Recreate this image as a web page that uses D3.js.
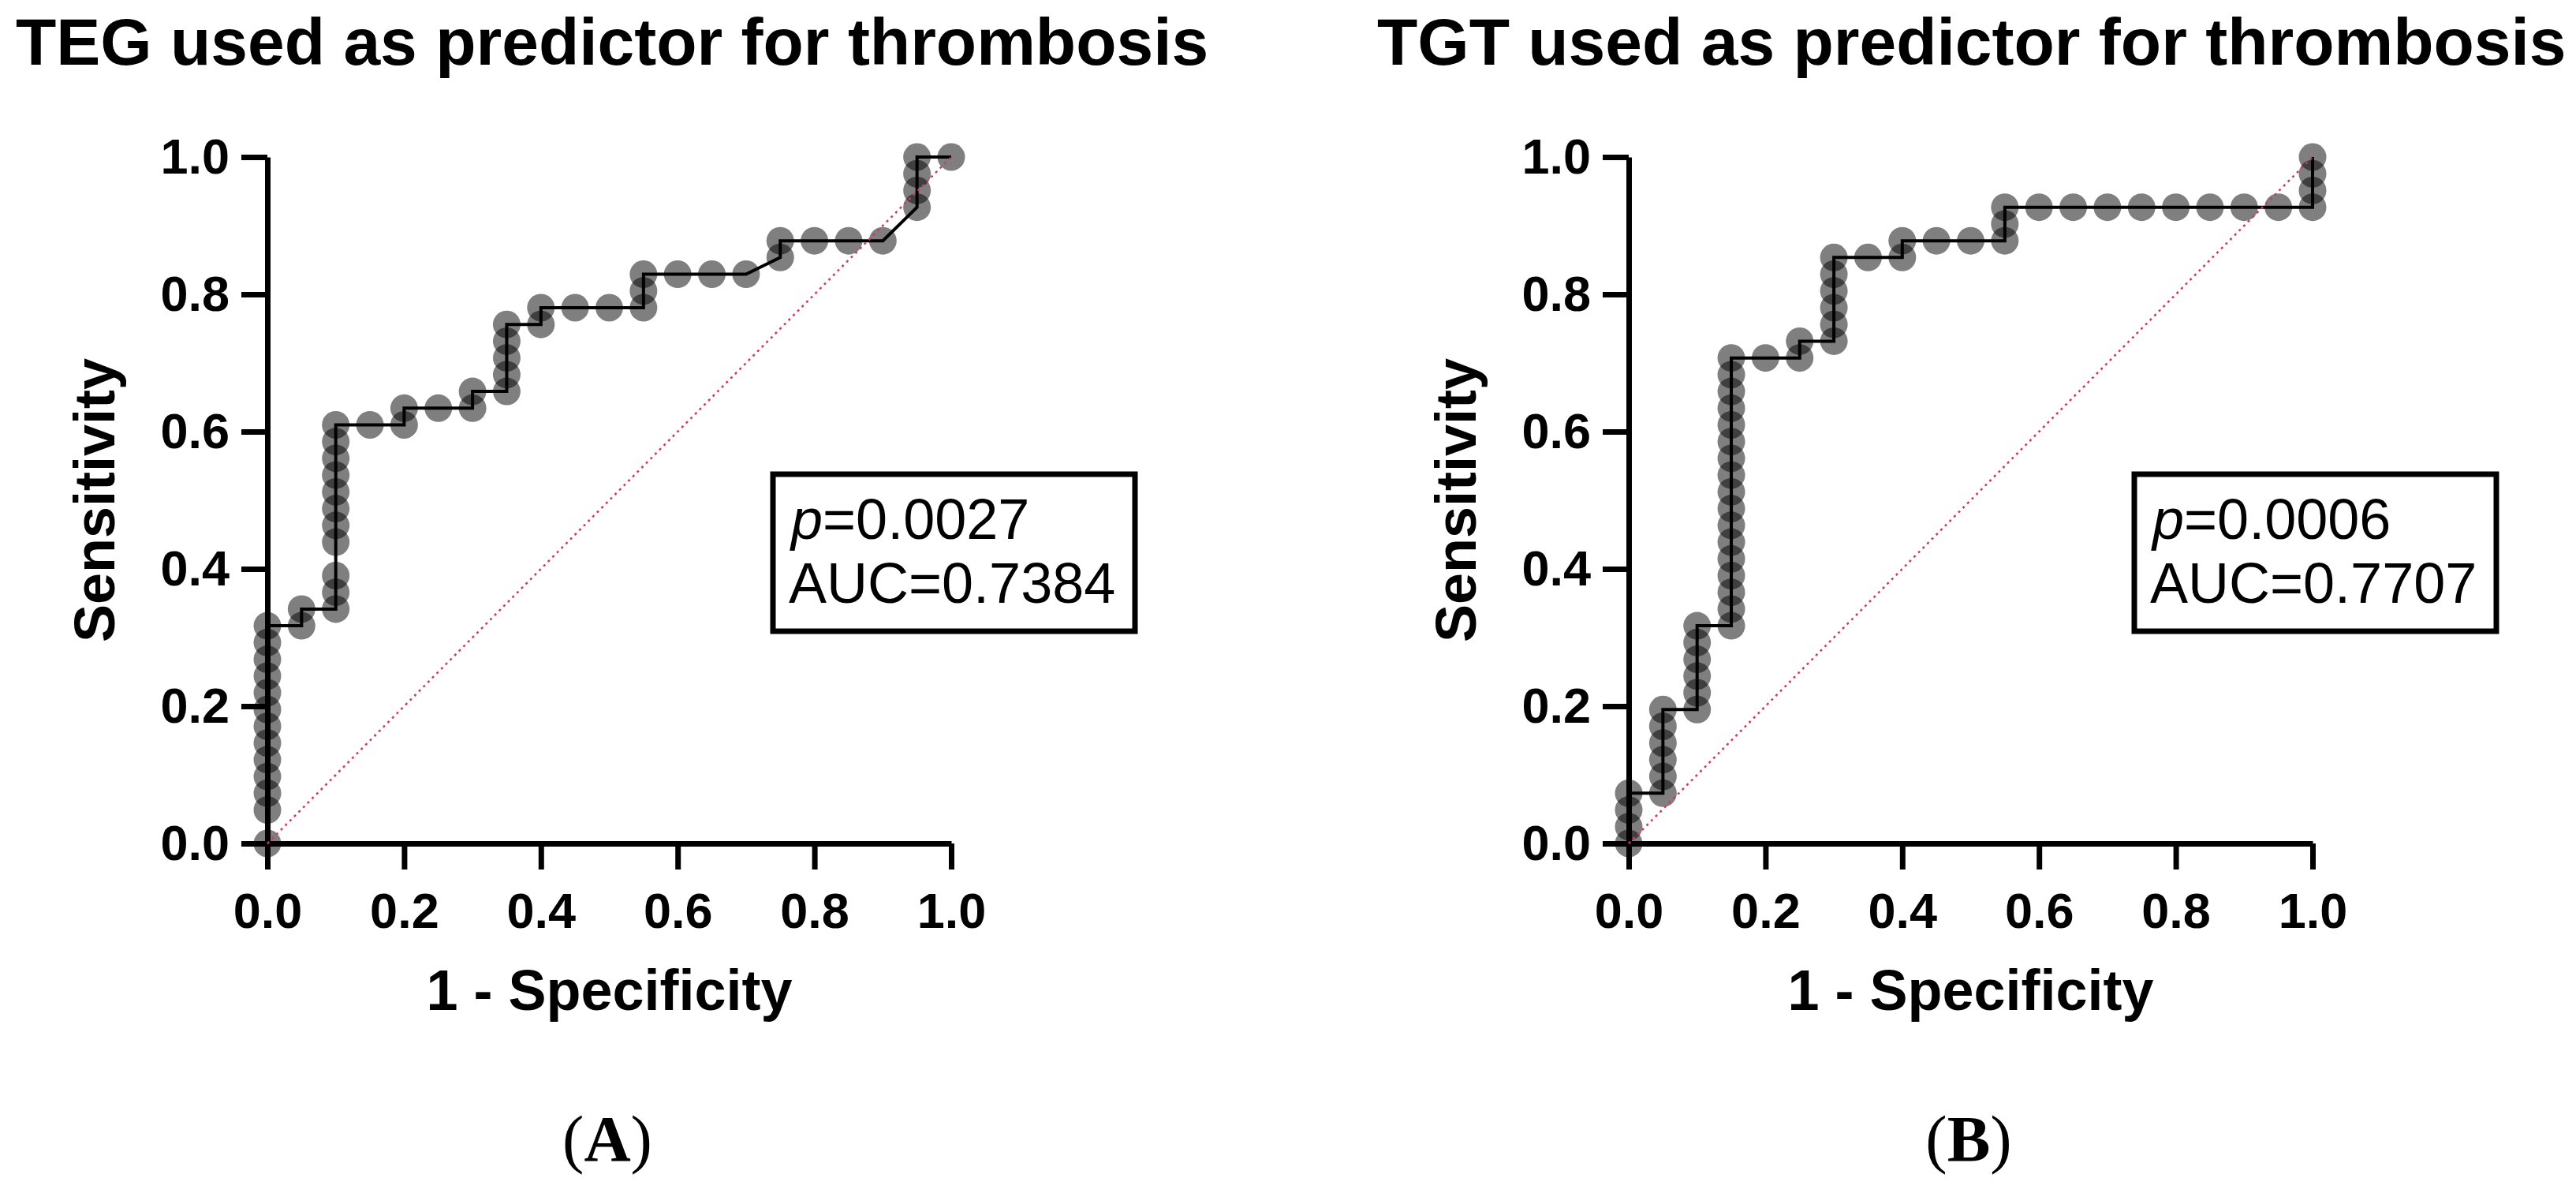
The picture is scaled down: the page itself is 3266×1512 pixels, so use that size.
<!DOCTYPE html>
<html>
<head>
<meta charset="utf-8">
<script src="https://cdn.jsdelivr.net/npm/d3@7"></script>
<style>
  html, body { margin: 0; padding: 0; background: #fff; }
  svg { display: block; }
  .axis path, .axis line { stroke: #000; stroke-width: 7; }
  .axis text { font-family: "Liberation Sans", Arial, sans-serif; font-weight: bold; font-size: 63px; fill: #000; }
  .title, .axtitle { font-family: "Liberation Sans", Arial, sans-serif; font-weight: bold; fill: #000; }
  .stat { font-family: "Liberation Sans", Arial, sans-serif; font-size: 72px; fill: #000; }
  .panel { font-family: "Liberation Serif", "Times New Roman", serif; font-size: 82px; fill: #000; }
</style>
</head>
<body>
<div id="chart"></div>
<script>
// ROC points (1 - specificity, sensitivity)
var tegFpr = [0, 0, 0, 0, 0, 0, 0, 0, 0, 0, 0, 0, 0,
  0.05, 0.05, 0.10, 0.10, 0.10, 0.10, 0.10, 0.10, 0.10, 0.10, 0.10, 0.10, 0.10,
  0.15, 0.20, 0.20, 0.25, 0.30, 0.30, 0.35, 0.35, 0.35, 0.35, 0.35, 0.40, 0.40,
  0.45, 0.50, 0.55, 0.55, 0.55, 0.60, 0.65, 0.70, 0.75, 0.75, 0.80, 0.85, 0.90,
  0.95, 0.95, 0.95, 0.95, 1.00];
var tegSens = [0, 0.0488, 0.0732, 0.0976, 0.1220, 0.1463, 0.1707, 0.1951, 0.2195, 0.2439, 0.2683, 0.2927, 0.3171,
  0.3171, 0.3415, 0.3415, 0.3659, 0.3902, 0.4390, 0.4634, 0.4878, 0.5122, 0.5366, 0.5610, 0.5854, 0.6098,
  0.6098, 0.6098, 0.6341, 0.6341, 0.6341, 0.6585, 0.6585, 0.6829, 0.7073, 0.7317, 0.7561, 0.7561, 0.7805,
  0.7805, 0.7805, 0.7805, 0.8049, 0.8293, 0.8293, 0.8293, 0.8293, 0.8537, 0.8780, 0.8780, 0.8780, 0.8780,
  0.9268, 0.9512, 0.9756, 1.0000, 1.0000];

var tgtFpr = [0, 0, 0, 0,
  0.05, 0.05, 0.05, 0.05, 0.05, 0.05,
  0.10, 0.10, 0.10, 0.10, 0.10, 0.10,
  0.15, 0.15, 0.15, 0.15, 0.15, 0.15, 0.15, 0.15, 0.15, 0.15, 0.15, 0.15, 0.15, 0.15, 0.15, 0.15, 0.15,
  0.20, 0.25, 0.25, 0.30, 0.30, 0.30, 0.30, 0.30, 0.30, 0.35, 0.40, 0.40, 0.45, 0.50,
  0.55, 0.55, 0.55, 0.60, 0.65, 0.70, 0.75, 0.80, 0.85, 0.90, 0.95, 1.00, 1.00, 1.00, 1.00];
var tgtSens = [0, 0.0244, 0.0488, 0.0732,
  0.0732, 0.0976, 0.1220, 0.1463, 0.1707, 0.1951,
  0.1951, 0.2195, 0.2439, 0.2683, 0.2927, 0.3171,
  0.3171, 0.3415, 0.3659, 0.3902, 0.4146, 0.4390, 0.4634, 0.4878, 0.5122, 0.5366, 0.5610, 0.5854, 0.6098, 0.6341, 0.6585, 0.6829, 0.7073,
  0.7073, 0.7073, 0.7317, 0.7317, 0.7561, 0.7805, 0.8049, 0.8293, 0.8537, 0.8537, 0.8537, 0.8780, 0.8780, 0.8780,
  0.8780, 0.9024, 0.9268, 0.9268, 0.9268, 0.9268, 0.9268, 0.9268, 0.9268, 0.9268, 0.9268, 0.9268, 0.9512, 0.9756, 1.0000];

var axisTicks = [0, 0.2, 0.4, 0.6, 0.8, 1.0];

var panels = [
  { title: "TEG used as predictor for thrombosis", fpr: tegFpr, sens: tegSens, p: "0.0027", auc: "0.7384", label: "A", dx: 0 },
  { title: "TGT used as predictor for thrombosis", fpr: tgtFpr, sens: tgtSens, p: "0.0006", auc: "0.7707", label: "B", dx: 1726 }
];

var width = 3266, height = 1512;

var svg = d3.select("#chart").append("svg")
  .attr("width", width)
  .attr("height", height);

panels.forEach(function(pn) {
  var left = 339 + pn.dx, right = 1206 + pn.dx;
  var top = 199, bottom = 1069;

  var x = d3.scaleLinear().domain([0, 1]).range([left, right]);
  var y = d3.scaleLinear().domain([0, 1]).range([bottom, top]);

  var g = svg.append("g");

  // title
  g.append("text")
    .attr("class", "title")
    .attr("x", 20 + pn.dx)
    .attr("y", 82)
    .style("font-size", "84px")
    .text(pn.title);

  // axes
  g.append("g")
    .attr("class", "axis")
    .attr("transform", "translate(0," + bottom + ")")
    .call(d3.axisBottom(x).tickValues(axisTicks).tickFormat(d3.format(".1f"))
      .tickSize(33).tickSizeOuter(0).tickPadding(29));

  g.append("g")
    .attr("class", "axis")
    .attr("transform", "translate(" + left + ",0)")
    .call(d3.axisLeft(y).tickValues(axisTicks).tickFormat(d3.format(".1f"))
      .tickSize(33).tickSizeOuter(0).tickPadding(15));

  // axis titles
  g.append("text")
    .attr("class", "axtitle")
    .attr("text-anchor", "middle")
    .attr("transform", "translate(" + (145 + pn.dx) + "," + ((top + bottom) / 2) + ") rotate(-90)")
    .style("font-size", "72px")
    .text("Sensitivity");

  g.append("text")
    .attr("class", "axtitle")
    .attr("text-anchor", "middle")
    .attr("x", (left + right) / 2)
    .attr("y", 1280)
    .style("font-size", "72px")
    .text("1 - Specificity");

  var pts = pn.fpr.map(function(v, i) { return [v, pn.sens[i]]; });

  // points
  g.append("g")
    .selectAll("circle")
    .data(pts)
    .enter().append("circle")
    .attr("cx", d => x(d[0]))
    .attr("cy", d => y(d[1]))
    .attr("r", 17.5)
    .attr("fill", "#000")
    .attr("fill-opacity", 0.5);

  // roc line
  var line = d3.line().x(d => x(d[0])).y(d => y(d[1]));
  g.append("path")
    .datum(pts)
    .attr("d", line)
    .attr("fill", "none")
    .attr("stroke", "#000")
    .attr("stroke-width", 4);

  // chance line
  g.append("path")
    .datum([[0, 0], [1, 1]])
    .attr("d", line)
    .attr("fill", "none")
    .attr("stroke", "#d8355f")
    .attr("stroke-width", 2.5)
    .attr("stroke-dasharray", "3,5");

  // stats box
  g.append("rect")
    .attr("x", 980 + pn.dx)
    .attr("y", 601)
    .attr("width", 459)
    .attr("height", 199)
    .attr("fill", "none")
    .attr("stroke", "#000")
    .attr("stroke-width", 7);

  var t1 = g.append("text").attr("class", "stat").attr("x", 1003 + pn.dx).attr("y", 683);
  t1.append("tspan").style("font-style", "italic").text("p");
  t1.append("tspan").text("=" + pn.p);

  g.append("text").attr("class", "stat").attr("x", 1000 + pn.dx).attr("y", 764)
    .text("AUC=" + pn.auc);

  // panel letter
  var pl = g.append("text").attr("class", "panel")
    .attr("text-anchor", "middle")
    .attr("x", 770 + pn.dx)
    .attr("y", 1471);
  pl.append("tspan").text("(");
  pl.append("tspan").style("font-weight", "bold").text(pn.label);
  pl.append("tspan").text(")");
});
</script>
</body>
</html>
